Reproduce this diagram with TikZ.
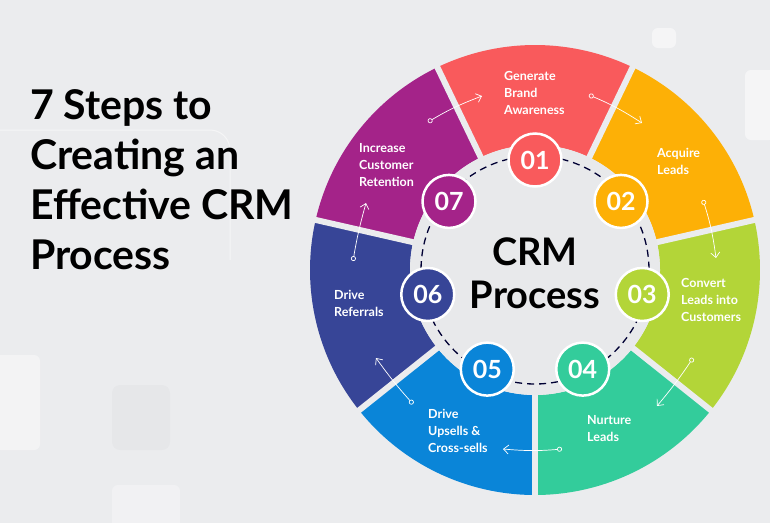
\documentclass[tikz,border=0pt]{standalone}
\usepackage{fontspec}
\setmainfont{Lato}
\usetikzlibrary{arrows.meta,calc}
\definecolor{bg}{HTML}{EBECEE}
\definecolor{cA}{HTML}{F95A5C}
\definecolor{cB}{HTML}{FDB006}
\definecolor{cC}{HTML}{B3D538}
\definecolor{cD}{HTML}{33CC9B}
\definecolor{cE}{HTML}{0A85D8}
\definecolor{cF}{HTML}{374597}
\definecolor{cG}{HTML}{A42389}
\definecolor{inner}{HTML}{E8E9EB}
\begin{document}
\begin{tikzpicture}[x=1pt,y=-1pt,
  seglabel/.style={text=white,font=\fontsize{12.5}{17}\selectfont\bfseries,align=left,anchor=west,inner sep=0},
  numc/.style={circle,draw=white,line width=2.5pt,minimum size=53pt,inner sep=0,text=white,font=\fontsize{25}{25}\selectfont\bfseries},
  flow/.style={white,line width=0.7pt,{Circle[open,length=5pt,width=5pt]}-{Straight Barb[length=5pt,width=9pt]}}]
\fill[bg] (0,0) rectangle (770,523);
\useasboundingbox (0,0) rectangle (770,523);
% faint background shapes
\fill[white,opacity=0.5,rounded corners=6pt] (745,70) rectangle (775,140);
\fill[white,opacity=0.5,rounded corners=6pt] (652,28) rectangle (676,48);
\fill[white,opacity=0.4,rounded corners=6pt] (-5,355) rectangle (40,450);
\fill[white,opacity=0.3,rounded corners=6pt] (112,485) rectangle (180,530);
\fill[black,opacity=0.02,rounded corners=8pt] (112,385) rectangle (170,450);
\draw[white,opacity=0.5,line width=1pt,rounded corners=20pt] (-5,130) -- (230,130) -- (230,260);
\coordinate (O) at (535,270);
% segments
\foreach \c [count=\i from 0] in {cA,cB,cC,cD,cE,cF,cG}{
  \pgfmathsetmacro\aS{-(115.714-51.4286*\i)}
  \pgfmathsetmacro\aE{-(64.286-51.4286*\i)}
  \fill[\c] ($(O)+(\aS:225)$) arc[start angle=\aS,end angle=\aE,radius=225]
     -- ($(O)+(\aE:125)$) arc[start angle=\aE,end angle=\aS,radius=125] -- cycle;
}
\foreach \i in {0,...,6}{
  \pgfmathsetmacro\aS{-(115.714-51.4286*\i)}
  \draw[bg,line width=6pt] ($(O)+(\aS:118)$) -- ($(O)+(\aS:232)$);
}
\fill[inner] (O) circle (125);
\draw[black!80!blue,dashed,dash pattern=on 7pt off 5pt,line width=1.3pt] (O) circle (114);
% numbers
\foreach \c/\t [count=\i from 0] in {cA/01,cB/02,cC/03,cD/04,cE/05,cF/06,cG/07}{
  \pgfmathsetmacro\a{-(90-51.4286*\i)}
  \node[numc,fill=\c] (n\t) at ($(O)+(\a:110)$) {\t};
}
\node[font=\fontsize{38}{43}\selectfont\bfseries,align=center] (crm) at (535,273) {CRM\\Process};
% title
\node[font=\fontsize{41}{50}\selectfont\bfseries,align=left,anchor=west,inner sep=0] (title) at (30,180) {7 Steps to\\Creating an\\Effective CRM\\Process};
% labels
\node[seglabel] (l1) at (504,93) {Generate\\Brand\\Awareness};
\node[seglabel] (l2) at (657,161) {Acquire\\Leads};
\node[seglabel] (l3) at (681,300) {Convert\\Leads into\\Customers};
\node[seglabel] (l4) at (587,429) {Nurture\\Leads};
\node[seglabel] (l5) at (428,431) {Drive\\Upsells \&\\Cross-sells};
\node[seglabel] (l6) at (334,303) {Drive\\Referrals};
\node[seglabel] (l7) at (359,165) {Increase\\Customer\\Retention};
% arrows
\coordinate (a7s) at (428,122); \coordinate (a7e) at (482,96);
\coordinate (a1s) at (589,95);  \coordinate (a1e) at (642,123);
\coordinate (a2s) at (703,200); \coordinate (a2e) at (716,258);
\coordinate (a3s) at (693,358); \coordinate (a3e) at (657,406);
\coordinate (a4s) at (562,449); \coordinate (a4e) at (503,449);
\coordinate (a5s) at (413,404); \coordinate (a5e) at (376,358);
\coordinate (a6s) at (353,261); \coordinate (a6e) at (366,203);
\draw[flow] (a7s) to[bend left=5] (a7e);
\draw[flow] (a1s) to[bend left=5] (a1e);
\draw[flow] (a2s) to[bend left=5] (a2e);
\draw[flow] (a3s) to[bend left=3] (a3e);
\draw[flow] (a4s) to[bend left=5] (a4e);
\draw[flow] (a5s) to[bend left=3] (a5e);
\draw[flow] (a6s) to[bend left=3] (a6e);
\end{tikzpicture}
\end{document}
